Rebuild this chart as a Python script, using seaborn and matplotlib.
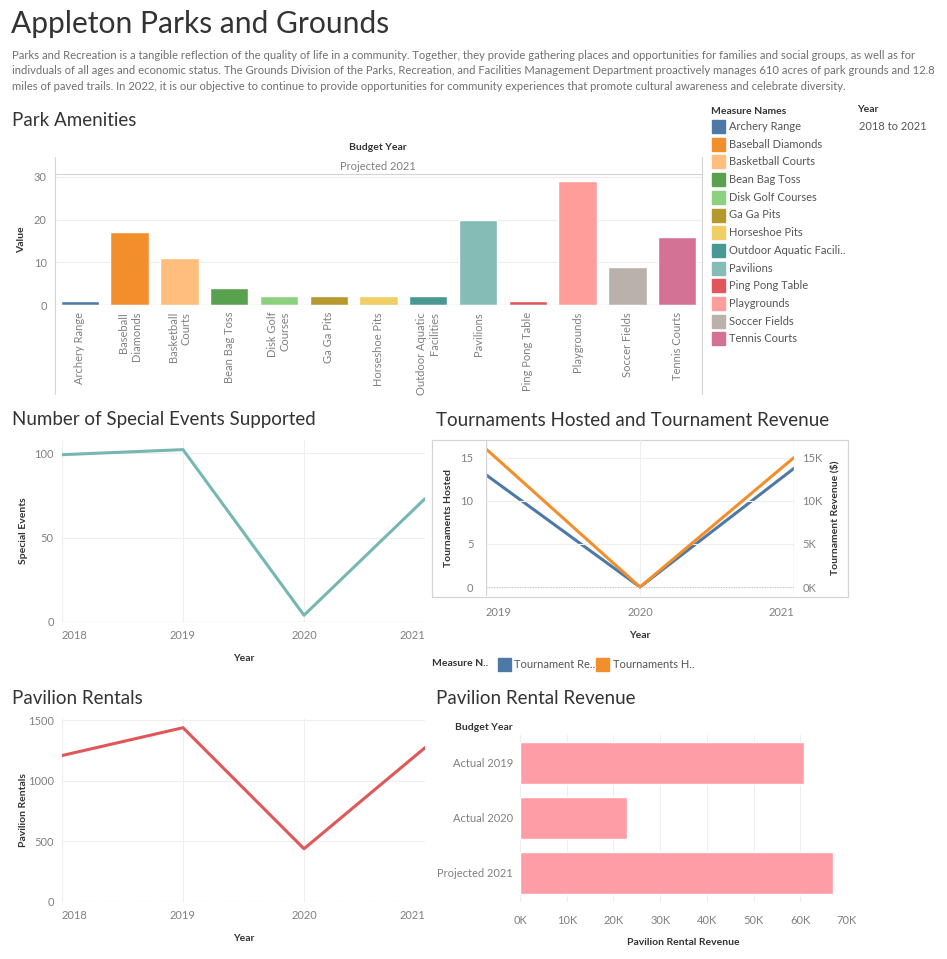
import numpy as np
import pandas as pd
import seaborn as sns
import matplotlib.pyplot as plt
from matplotlib.patches import Rectangle
from matplotlib.lines import Line2D

# --- data ---
amenities = ["Archery Range", "Baseball Diamonds", "Basketball Courts", "Bean Bag Toss",
             "Disk Golf Courses", "Ga Ga Pits", "Horseshoe Pits", "Outdoor Aquatic Facilities",
             "Pavilions", "Ping Pong Table", "Playgrounds", "Soccer Fields", "Tennis Courts"]
amenity_ticks = ["Archery Range", "Baseball\nDiamonds", "Basketball\nCourts", "Bean Bag Toss",
                 "Disk Golf\nCourses", "Ga Ga Pits", "Horseshoe Pits", "Outdoor Aquatic\nFacilities",
                 "Pavilions", "Ping Pong Table", "Playgrounds", "Soccer Fields", "Tennis Courts"]
amenity_legend = ["Archery Range", "Baseball Diamonds", "Basketball Courts", "Bean Bag Toss",
                  "Disk Golf Courses", "Ga Ga Pits", "Horseshoe Pits", "Outdoor Aquatic Facili..",
                  "Pavilions", "Ping Pong Table", "Playgrounds", "Soccer Fields", "Tennis Courts"]
amenity_values = [1, 17, 11, 4, 2, 2, 2, 2, 20, 1, 29, 9, 16]
amenity_colors = ["#4e79a7", "#f28e2b", "#ffbe7d", "#59a14f", "#8cd17d", "#b6992d", "#f1ce63",
                  "#499894", "#86bcb6", "#e15759", "#ff9d9a", "#bab0ac", "#d37295"]

years = [2018, 2019, 2020, 2021]
special_events = [99, 102, 4, 73]
pavilion_rentals = [1210, 1440, 440, 1275]

t_years = [2019, 2020, 2021]
tournaments_hosted = [16, 0, 15]
tournament_revenue = [13000, 0, 13750]

budget_years = ["Actual 2019", "Actual 2020", "Projected 2021"]
rental_revenue = [60900, 22800, 67000]

W, H = 947, 959
TXT = "#333333"
TICK = "#808080"
GRID = "#eeeeee"


def box(x0, y0, x1, y1):
    return [x0 / W, 1 - y1 / H, (x1 - x0) / W, (y1 - y0) / H]


def ftext(x, y, s, **kw):
    fig.text(x / W, 1 - y / H, s, **kw)


def fline(x0, y0, x1, y1, color="#d4d4d4", lw=0.8):
    fig.add_artist(Line2D([x0 / W, x1 / W], [1 - y0 / H, 1 - y1 / H], color=color, lw=lw,
                          transform=fig.transFigure))


def tableau_style(ax):
    for s in ax.spines.values():
        s.set_visible(False)
    ax.grid(True, color=GRID, lw=0.8)
    ax.set_axisbelow(True)
    ax.tick_params(length=0, labelsize=8, labelcolor=TICK, pad=6)
    ax.set_xlabel("")
    ax.set_ylabel("")


def year_ticks(ax, yrs):
    ax.set_xticks(yrs)
    ax.set_xticklabels([str(y) for y in yrs])
    labs = ax.get_xticklabels()
    labs[0].set_ha("left")
    labs[-1].set_ha("right")


sns.set_theme(style="white")
plt.rcParams["font.family"] = ["Lato", "DejaVu Sans"]

fig = plt.figure(figsize=(W / 100, H / 100), dpi=100)

# --- header ---
ftext(11, 33, "Appleton Parks and Grounds", fontsize=21.6, color=TXT, va="baseline")
desc = ("Parks and Recreation is a tangible reflection of the quality of life in a community. Together, they provide gathering places and opportunities for families and social groups, as well as for\n"
        "indivduals of all ages and economic status. The Grounds Division of the Parks, Recreation, and Facilities Management Department proactively manages 610 acres of park grounds and 12.8\n"
        "miles of paved trails. In 2022, it is our objective to continue to provide opportunities for community experiences that promote cultural awareness and celebrate diversity.")
ftext(12, 50, desc, fontsize=8.1, color="#707070", va="top", linespacing=1.5)

# --- Park Amenities ---
TITLE = 13.5
ftext(12, 120, "Park Amenities", fontsize=TITLE, color=TXT, va="center")
ax1 = fig.add_axes(box(55, 176, 702, 305))
sns.barplot(x=amenities, y=amenity_values, hue=amenities, palette=amenity_colors,
            legend=False, width=0.77, saturation=1, ax=ax1)
tableau_style(ax1)
ax1.grid(False, axis="x")
ax1.set_ylim(0, 30.2)
ax1.set_yticks([0, 10, 20, 30])
ax1.set_xticks(range(len(amenities)))
ax1.set_xticklabels(amenity_ticks, rotation=90, va="top", ha="center", multialignment="right")
ax1.tick_params(axis="x", pad=5)
ax1.axhline(0, color="#cfcfcf", lw=0.9)
ftext(22, 240, "Value", fontsize=7.5, color=TXT, weight="bold", rotation=90, va="center", ha="center")
ftext(378, 148, "Budget Year", fontsize=7.5, color=TXT, weight="bold", ha="center", va="center")
ftext(378, 166, "Projected 2021", fontsize=8, color=TICK, ha="center", va="center")
fline(55, 157, 55, 394)
fline(702, 157, 702, 394)
fline(55, 174, 702, 174)

# legend
ftext(711, 111, "Measure Names", fontsize=7.5, color=TXT, weight="bold", va="center")
for i, (name, col) in enumerate(zip(amenity_legend, amenity_colors)):
    top = 120 + i * 17.7
    fig.add_artist(Rectangle((712 / W, 1 - (top + 13) / H), 13 / W, 13 / H,
                             color=col, transform=fig.transFigure))
    ftext(729, top + 6.5, name, fontsize=8, color="#555555", va="center")
ftext(857, 110, "Year", fontsize=7.5, color=TXT, weight="bold", va="center")
ftext(859, 126, "2018 to 2021", fontsize=8, color="#555555", va="center")

# --- Special events ---
ftext(12, 420, "Number of Special Events Supported", fontsize=TITLE, color=TXT, va="center")
ax2 = fig.add_axes(box(62, 440, 425, 622))
sns.lineplot(x=years, y=special_events, color="#76b7b2", lw=2.2, ax=ax2)
tableau_style(ax2)
ax2.set_xlim(2018, 2021)
ax2.set_ylim(0, 107.7)
ax2.set_yticks([0, 50, 100])
year_ticks(ax2, years)
ax2.axhline(0, color="#dcdcdc", lw=0.9)
ax2.set_xlabel("Year", fontsize=7.5, color=TXT, weight="bold", labelpad=9)
ftext(23, 531, "Special Events", fontsize=7.5, color=TXT, weight="bold", rotation=90, va="center", ha="center")

# --- Tournaments ---
ftext(436, 420, "Tournaments Hosted and Tournament Revenue", fontsize=TITLE, color=TXT, va="center")
fig.add_artist(Rectangle((432 / W, 1 - 597 / H), 416 / W, 157 / H, fill=False,
                         ec="#d4d4d4", lw=0.9, transform=fig.transFigure))
ax3 = fig.add_axes(box(486, 440, 794, 596))
ax3r = ax3.twinx()
sns.lineplot(x=t_years, y=tournament_revenue, color="#4e79a7", lw=2.2, ax=ax3r)
sns.lineplot(x=t_years, y=tournaments_hosted, color="#f28e2b", lw=2.2, ax=ax3)
ax3.set_zorder(ax3r.get_zorder() + 1)
ax3.patch.set_visible(False)
tableau_style(ax3)
tableau_style(ax3r)
ax3r.grid(False)
ax3.set_xlim(2019, 2021)
ax3.set_ylim(-1.04, 17.03)
ax3r.set_ylim(-1040, 17030)
ax3.set_yticks([0, 5, 10, 15])
ax3r.set_yticks([0, 5000, 10000, 15000])
ax3r.set_yticklabels(["0K", "5K", "10K", "15K"])
year_ticks(ax3, t_years)
ax3.tick_params(axis="x", pad=8)
ax3.tick_params(axis="y", pad=9)
ax3.axhline(0, color="#bbbbbb", lw=0.7, ls=":")
ax3.axvline(2019, color="#d4d4d4", lw=0.9)
ax3.axvline(2021, color="#d4d4d4", lw=0.9)
ax3.set_xlabel("Year", fontsize=7.5, color=TXT, weight="bold", labelpad=9)
ftext(448, 518, "Tournaments Hosted", fontsize=7.5, color=TXT, weight="bold", rotation=90, va="center", ha="center")
ftext(835, 518, "Tournament Revenue ($)", fontsize=7.5, color=TXT, weight="bold", rotation=90, va="center", ha="center")
ftext(432, 664, "Measure N..", fontsize=7.5, color=TXT, weight="bold", va="center")
fig.add_artist(Rectangle((498 / W, 1 - 670.5 / H), 13 / W, 13 / H, color="#4e79a7", transform=fig.transFigure))
ftext(514, 664, "Tournament Re..", fontsize=8, color="#555555", va="center")
fig.add_artist(Rectangle((596 / W, 1 - 670.5 / H), 13 / W, 13 / H, color="#f28e2b", transform=fig.transFigure))
ftext(613, 664, "Tournaments H..", fontsize=8, color="#555555", va="center")

# --- Pavilion rentals ---
ftext(12, 698, "Pavilion Rentals", fontsize=TITLE, color=TXT, va="center")
ax4 = fig.add_axes(box(62, 719, 425, 902))
sns.lineplot(x=years, y=pavilion_rentals, color="#e15759", lw=2.2, ax=ax4)
tableau_style(ax4)
ax4.set_xlim(2018, 2021)
ax4.set_ylim(0, 1512)
ax4.set_yticks([0, 500, 1000, 1500])
year_ticks(ax4, years)
ax4.axhline(0, color="#cccccc", lw=0.8, ls=":")
ax4.set_xlabel("Year", fontsize=7.5, color=TXT, weight="bold", labelpad=9)
ftext(23, 810, "Pavilion Rentals", fontsize=7.5, color=TXT, weight="bold", rotation=90, va="center", ha="center")

# --- Pavilion rental revenue ---
ftext(436, 698, "Pavilion Rental Revenue", fontsize=TITLE, color=TXT, va="center")
ax5 = fig.add_axes(box(520, 735, 847, 902))
sns.barplot(x=rental_revenue, y=budget_years, color="#ff9da7", saturation=1, width=0.76,
            orient="h", ax=ax5)
tableau_style(ax5)
ax5.grid(False, axis="y")
ax5.set_xlim(0, 70000)
ax5.set_ylim(2.53, -0.5)
ax5.set_xticks(range(0, 70001, 10000))
ax5.set_xticklabels([f"{v // 1000}K" for v in range(0, 70001, 10000)])
ax5.tick_params(axis="x", pad=9)
ax5.tick_params(axis="y", pad=5)
ax5.set_xlabel("Pavilion Rental Revenue", fontsize=7.5, color=TXT, weight="bold", labelpad=9)
ftext(455, 728, "Budget Year", fontsize=7.5, color=TXT, weight="bold", va="center")

fig.savefig("out.png", dpi=100, facecolor="white")
